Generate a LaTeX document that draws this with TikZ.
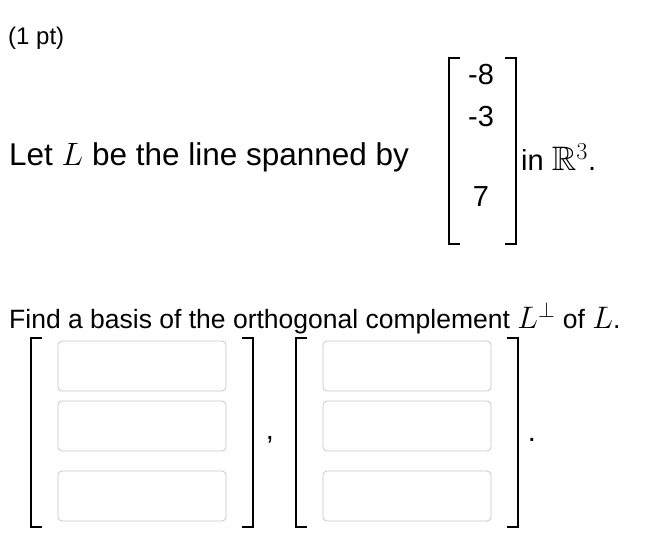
\documentclass[tikz,border=0pt]{standalone}
\usepackage{fontspec}
\setmainfont{Liberation Sans}
\usepackage{amssymb}
\usepackage{graphicx}
\newcommand{\mysc}[2]{\scalebox{#1}{$#2$}}
\begin{document}
\begin{tikzpicture}[x=1pt,y=-1pt,
  txt/.style={anchor=west,inner sep=0pt,font=\fontsize{29}{31}\selectfont},
  ent/.style={inner sep=0pt,font=\fontsize{29}{31}\selectfont},
  brk/.style={line width=1.6pt},
  ansbox/.style={draw=black!22,line width=0.8pt,rounded corners=4pt,fill=white}]
\useasboundingbox (0,0) rectangle (650,550);
\node[txt,font=\fontsize{24}{26}\selectfont] (pt) at (8,38) {(1 pt)};
\node[txt,font=\fontsize{31.5}{34}\selectfont] (let) at (9,157) {Let \mysc{1.3}{L} be the line spanned by};
\draw[brk] (460,58) -- (449,58) -- (449,244) -- (460,244);
\draw[brk] (505,58) -- (516,58) -- (516,244) -- (505,244);
\node[ent] (a) at (481,75) {-8};
\node[ent] (b) at (481,117) {-3};
\node[ent] (c) at (481,197) {7};
\node[txt] (in) at (521,157) {in \mysc{1.17}{\mathbb{R}^3}.};
\node[txt,font=\fontsize{26.5}{29}\selectfont] (find) at (9,318) {Find a basis of the orthogonal complement \mysc{1.25}{L^{\perp}} of \mysc{1.25}{L}.};
\foreach \x/\n in {0/u,265/v}{
  \draw[brk] (\x+42,338) -- (\x+31,338) -- (\x+31,527) -- (\x+42,527);
  \draw[brk] (\x+242,338) -- (\x+253,338) -- (\x+253,527) -- (\x+242,527);
  \node[ansbox,minimum width=168,minimum height=50] (\n1) at (\x+142,366) {};
  \node[ansbox,minimum width=168,minimum height=50] (\n2) at (\x+142,426) {};
  \node[ansbox,minimum width=168,minimum height=50] (\n3) at (\x+142,496) {};
}
\node[ent] (comma) at (270,440) {,};
\node[ent] (dot) at (532,440) {.};
\end{tikzpicture}
\end{document}
